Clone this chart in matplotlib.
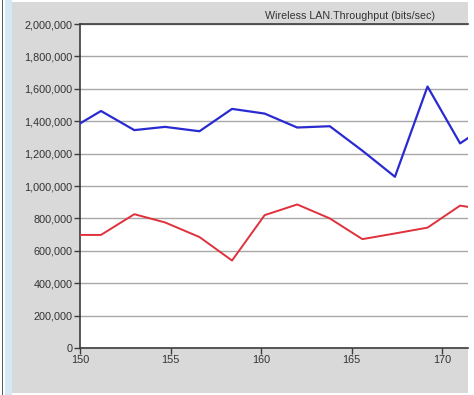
import matplotlib.pyplot as plt
from matplotlib.patches import Rectangle
from matplotlib.ticker import FuncFormatter

# sample times (sec) and throughput (bits/sec)
times = [150.0, 151.16, 153.0, 154.7, 156.6, 158.4, 160.2, 162.0, 163.8,
         165.6, 167.4, 169.2, 171.0, 172.8]
blue_throughput = [1386000, 1463000, 1345000, 1365000, 1338000, 1476000,
                   1447000, 1361000, 1369000, 1218000, 1057000, 1614000,
                   1263000, 1399000]
red_throughput = [698000, 698000, 826000, 775000, 685000, 540000, 820000,
                  886000, 800000, 672000, 707000, 743000, 879000, 847000]

y_ticks = [0, 200000, 400000, 600000, 800000, 1000000, 1200000, 1400000,
           1600000, 1800000, 2000000]
x_ticks = [150, 155, 160, 165, 170]
title = 'Wireless LAN.Throughput (bits/sec)'

W, H = 474, 395
fig = plt.figure(figsize=(W / 100, H / 100), dpi=100)
fig.patch.set_facecolor('white')

# window chrome: grey panel, blue strip and dark edge line on the left
fig.patches.append(Rectangle((12 / W, 2 / H), (468 - 12) / W, (393 - 2) / H,
                             transform=fig.transFigure, facecolor='#d9d9d9',
                             edgecolor='none', zorder=-2))
fig.patches.append(Rectangle((5 / W, 0), 7 / W, 1,
                             transform=fig.transFigure, facecolor='#d5e8f7',
                             edgecolor='none', zorder=-2))
fig.patches.append(Rectangle((2 / W, 0), 1.2 / W, 1,
                             transform=fig.transFigure, facecolor='#5a5a5a',
                             edgecolor='none', zorder=-2))

left, right, top, bottom = 80, 468, 24, 348
ax = fig.add_axes([left / W, (H - bottom) / H, (right - left) / W, (bottom - top) / H])
ax.set_zorder(1)
ax.set_facecolor('white')

ax.plot(times, blue_throughput, color='#2a2ad2', lw=1.6, zorder=3)
ax.plot(times, red_throughput, color='#e0303c', lw=1.4, zorder=3)

ax.set_xlim(150, 150 + (right - left) / 18.1)
ax.set_ylim(0, 2000000)
ax.set_xticks(x_ticks)
ax.set_yticks(y_ticks)
ax.yaxis.set_major_formatter(FuncFormatter(lambda v, p: f'{int(v):,}'))
ax.grid(axis='y', color='#a8a8a8', lw=1.0)
ax.set_axisbelow(True)

for s in ['left', 'bottom', 'top']:
    ax.spines[s].set_color('#3c3c3c')
    ax.spines[s].set_linewidth(1.2)
ax.spines['right'].set_visible(False)

ax.tick_params(axis='both', direction='out', length=4, width=1, color='#3c3c3c',
               labelsize=7.8, labelcolor='#333333')
ax.tick_params(axis='y', pad=1.5)
ax.tick_params(axis='x', pad=1)
for lab in ax.get_xticklabels() + ax.get_yticklabels():
    lab.set_family('Liberation Sans')

fig.text(435 / W, 1 - 16 / H, title, ha='right', va='center', fontsize=7.7,
         color='#333333', family='Liberation Sans')

fig.savefig('out.png', dpi=100)
